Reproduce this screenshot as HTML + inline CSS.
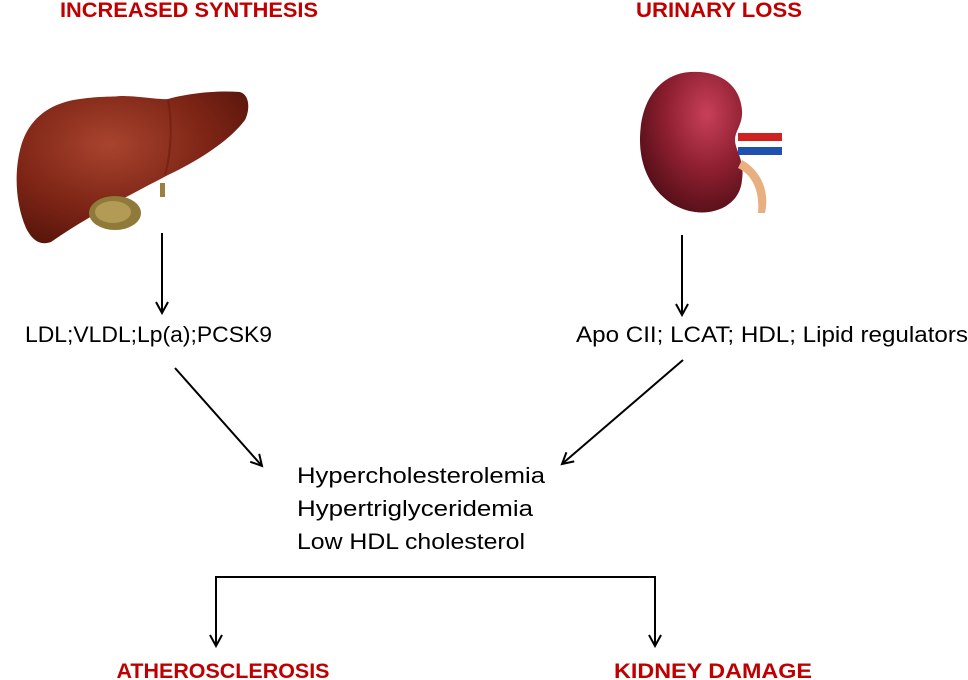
<!DOCTYPE html>
<html><head><style>
html,body{margin:0;padding:0;background:#fff;}
svg{display:block;}
text{font-family:"Liberation Sans",sans-serif;}
</style></head><body>
<svg width="968" height="680" viewBox="0 0 968 680" xmlns="http://www.w3.org/2000/svg">
<defs>
<radialGradient id="lv" cx="0.4" cy="0.35" r="0.7"><stop offset="0" stop-color="#a8442e"/><stop offset="0.6" stop-color="#7e2516"/><stop offset="1" stop-color="#5a160c"/></radialGradient>
<radialGradient id="kd" cx="0.65" cy="0.3" r="0.8"><stop offset="0" stop-color="#c8405a"/><stop offset="0.5" stop-color="#8e1f30"/><stop offset="1" stop-color="#4a0c14"/></radialGradient>
<marker id="ah" markerWidth="14" markerHeight="14" refX="12" refY="7" orient="auto" markerUnits="userSpaceOnUse"><path d="M1,1 L12,7 L1,13" fill="none" stroke="#000" stroke-width="2"/></marker>
</defs>
<g font-weight="bold" fill="#c00000" font-size="21">
<text x="189" y="17" text-anchor="middle" textLength="258" lengthAdjust="spacingAndGlyphs">INCREASED SYNTHESIS</text>
<text x="719" y="17" text-anchor="middle" textLength="166" lengthAdjust="spacingAndGlyphs">URINARY LOSS</text>
<text x="223" y="678" text-anchor="middle" textLength="213" lengthAdjust="spacingAndGlyphs">ATHEROSCLEROSIS</text>
<text x="713" y="678" text-anchor="middle" textLength="198" lengthAdjust="spacingAndGlyphs">KIDNEY DAMAGE</text>
</g>
<!-- liver -->
<path d="M20,150 C28,115 55,102 80,99 C100,96 115,97 120,96 C140,96 160,100 168,99 C185,94 215,90 240,92 C250,95 250,110 245,120 C230,140 200,160 168,175 C130,195 90,215 51,242 C40,246 32,240 26,228 C16,205 14,175 20,150 Z" fill="url(#lv)"/>
<path d="M168,100 C172,120 172,150 165,175" stroke="#6a1a0e" stroke-width="2" fill="none" opacity="0.6"/>
<ellipse cx="115" cy="213" rx="26" ry="17" fill="#8f7a3a"/>
<ellipse cx="113" cy="212" rx="18" ry="11" fill="#b39a55"/>
<rect x="160" y="183" width="5" height="14" fill="#9a8040"/>
<!-- kidney -->
<path d="M690,72 C720,70 740,85 742,110 C743,125 735,130 735,140 C735,150 745,160 742,180 C740,205 715,215 695,212 C665,208 640,180 640,140 C640,100 660,74 690,72 Z" fill="url(#kd)"/>
<rect x="738" y="133" width="44" height="8" fill="#d02020"/>
<rect x="738" y="147" width="44" height="8" fill="#2050b0"/>
<path d="M742,160 C760,170 770,190 765,213 L758,213 C760,190 752,175 738,168 Z" fill="#e8b080"/>
<g stroke="#000" stroke-width="2" fill="none" marker-end="url(#ah)">
<line x1="162" y1="233" x2="162" y2="313"/>
<line x1="682" y1="235" x2="682" y2="315"/>
<line x1="175" y1="368" x2="262" y2="466"/>
<line x1="683" y1="360" x2="562" y2="464"/>
<line x1="216" y1="577" x2="216" y2="646"/>
<line x1="655" y1="577" x2="655" y2="646"/>
</g>
<line x1="215" y1="577" x2="656" y2="577" stroke="#000" stroke-width="2"/>
<g font-size="22" fill="#000">
<text x="25" y="342" textLength="247" lengthAdjust="spacingAndGlyphs">LDL;VLDL;Lp(a);PCSK9</text>
<text x="576" y="342" textLength="392" lengthAdjust="spacingAndGlyphs">Apo CII; LCAT; HDL; Lipid regulators</text>
<text x="297" y="483" textLength="248" lengthAdjust="spacingAndGlyphs">Hypercholesterolemia</text>
<text x="297" y="516" textLength="236" lengthAdjust="spacingAndGlyphs">Hypertriglyceridemia</text>
<text x="297" y="549" textLength="228" lengthAdjust="spacingAndGlyphs">Low HDL cholesterol</text>
</g>
</svg>
</body></html>
